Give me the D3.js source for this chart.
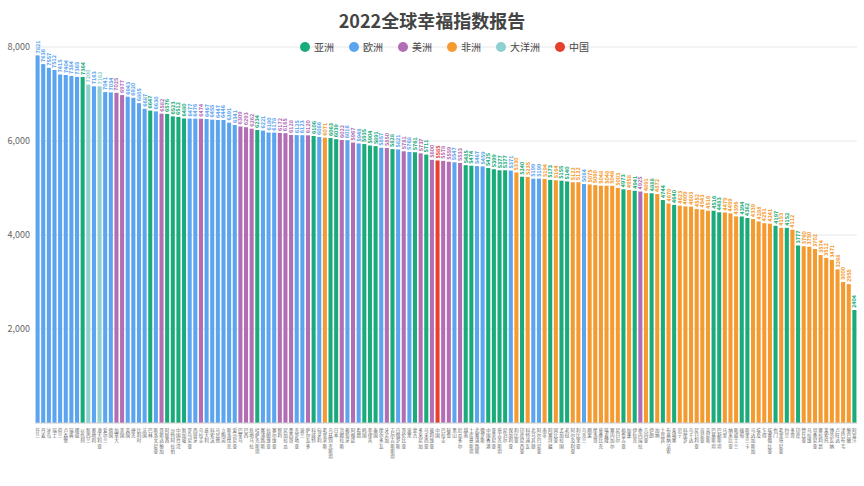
<!DOCTYPE html><html><head><meta charset="utf-8"><script src="https://cdn.jsdelivr.net/npm/d3@7"></script>
<style>body{margin:0;background:#fff}svg{font-family:"Noto Sans CJK SC","Noto Sans",sans-serif}</style></head><body><svg width="864" height="486"></svg><script>
const names="芬兰,丹麦,冰岛,瑞士,荷兰,卢森堡,瑞典,挪威,以色列,新西兰,奥地利,澳大利亚,爱尔兰,德国,加拿大,美国,英国,捷克,比利时,法国,巴林,斯洛文尼亚,哥斯达黎加,阿联酋,沙特阿拉伯,中国台湾,新加坡,罗马尼亚,西班牙,乌拉圭,意大利,科索沃,马耳他,立陶宛,斯洛伐克,爱沙尼亚,巴拿马,巴西,危地马拉,哈萨克斯坦,塞浦路斯,拉脱维亚,塞尔维亚,智利,尼加拉瓜,墨西哥,克罗地亚,波兰,萨尔瓦多,科威特,匈牙利,毛里求斯,乌兹别克斯坦,日本,洪都拉斯,葡萄牙,阿根廷,希腊,韩国,菲律宾,泰国,摩尔多瓦,牙买加,吉尔吉斯斯坦,白俄罗斯,哥伦比亚,波黑,蒙古,多米尼加,马来西亚,玻利维亚,中国,巴拉圭,秘鲁,黑山,厄瓜多尔,越南,土库曼斯坦,北塞浦路斯,俄罗斯,中国香港,亚美尼亚,塔吉克斯坦,尼泊尔,保加利亚,利比亚,印度尼西亚,科特迪瓦,北马其顿,阿尔巴尼亚,南非,阿塞拜疆,冈比亚,孟加拉国,老挝,阿尔及利亚,利比里亚,乌克兰,刚果,摩洛哥,莫桑比克,喀麦隆,塞内加尔,尼日尔,格鲁吉亚,加蓬,伊拉克,委内瑞拉,几内亚,伊朗,加纳,土耳其,布基纳法索,柬埔寨,贝宁,科摩罗,乌干达,尼日利亚,肯尼亚,突尼斯,巴基斯坦,巴勒斯坦,马里,纳米比亚,斯威士兰,缅甸,斯里兰卡,马达加斯加,埃及,乍得,埃塞俄比亚,也门,毛里塔尼亚,约旦,多哥,印度,赞比亚,马拉维,坦桑尼亚,塞拉利昂,莱索托,博茨瓦纳,卢旺达,津巴布韦,黎巴嫩,阿富汗".split(",");
const values=[7821,7636,7557,7512,7415,7404,7384,7365,7364,7200,7163,7162,7041,7034,7025,6977,6943,6920,6805,6687,6647,6630,6582,6576,6523,6512,6480,6477,6476,6474,6467,6455,6447,6446,6391,6341,6309,6293,6262,6234,6221,6180,6178,6172,6165,6128,6125,6123,6120,6106,6086,6071,6063,6039,6022,6016,5967,5948,5935,5904,5891,5857,5850,5828,5821,5781,5768,5761,5737,5711,5600,5585,5578,5559,5547,5533,5485,5474,5467,5459,5425,5399,5377,5377,5371,5330,5240,5235,5199,5199,5194,5173,5164,5155,5140,5122,5122,5084,5075,5060,5048,5048,5046,5003,4973,4958,4941,4925,4891,4888,4872,4744,4670,4640,4623,4609,4603,4552,4543,4516,4516,4483,4479,4459,4396,4394,4362,4339,4288,4251,4241,4197,4153,4152,4112,3777,3760,3750,3702,3574,3512,3471,3268,3000,2955,2404];
const regions="EEEEEEEEAOEOEEMMEEEEAEMAAAAEEMEEEEEEMMMAEEEMMMEEMAEFAAMEMEAAAEMAEMEAMAMCMMEMAAEEAAAAEFAFEEFAFAAFFEFFFFFFAFAMFAFAFAFFFFFFAAFFFAAFFFFAFAFAFFFFFFFFFAA".split("");
const legend=[["A","亚洲","#1aab7b"],["E","欧洲","#5ba4f0"],["M","美洲","#b26db5"],["F","非洲","#f59a2e"],["O","大洋洲","#8ecfd0"],["C","中国","#e6402f"]];
const yTicks=[2000,4000,6000,8000];
const col=Object.fromEntries(legend.map(d=>[d[0],d[2]]));
const svg=d3.select("svg");
const x=d3.scaleBand().domain(names).range([35,857]).paddingInner(0.28).paddingOuter(0.1);
const y=d3.scaleLinear().domain([0,8000]).range([423,47]);
svg.append("g").selectAll("line").data(yTicks).join("line").attr("x1",35).attr("x2",857).attr("y1",d=>y(d)).attr("y2",d=>y(d)).attr("stroke","#e6e6e6");
svg.append("g").selectAll("text").data(yTicks).join("text").attr("x",30).attr("y",d=>y(d)+3).attr("text-anchor","end").attr("font-size",9).attr("fill","#666").text(d3.format(","));
svg.append("text").attr("x",432).attr("y",28).attr("text-anchor","middle").attr("font-size",18).attr("font-weight","bold").attr("fill","#444").text("2022全球幸福指数报告");
const lg=svg.append("g");let lx=305;
legend.forEach(d=>{lg.append("circle").attr("cx",lx).attr("cy",47).attr("r",5).attr("fill",d[2]);lg.append("text").attr("x",lx+9).attr("y",51).attr("font-size",10).attr("fill","#444").text(d[1]);lx+=9+d[1].length*10+20;});
svg.append("g").selectAll("rect").data(names).join("rect").attr("x",d=>x(d)).attr("width",x.bandwidth()).attr("y",(d,i)=>y(values[i])).attr("height",(d,i)=>y(0)-y(values[i])).attr("fill",(d,i)=>col[regions[i]]);
svg.append("g").selectAll("text").data(names).join("text").attr("transform",(d,i)=>`translate(${x(d)+x.bandwidth()/2+2},${y(values[i])-2}) rotate(-90)`).attr("font-size",5.5).attr("font-weight","bold").attr("fill",(d,i)=>col[regions[i]]).text((d,i)=>values[i]);
svg.append("line").attr("x1",35).attr("x2",857).attr("y1",423).attr("y2",423).attr("stroke","#ccc");
const xl=svg.append("g");
names.forEach(n=>{const t=xl.append("text").attr("font-size",4.6).attr("fill","#666").attr("text-anchor","middle");[...n].forEach((c,j)=>t.append("tspan").attr("x",x(n)+x.bandwidth()/2).attr("y",432+j*5.2).text(c));});
</script></body></html>
